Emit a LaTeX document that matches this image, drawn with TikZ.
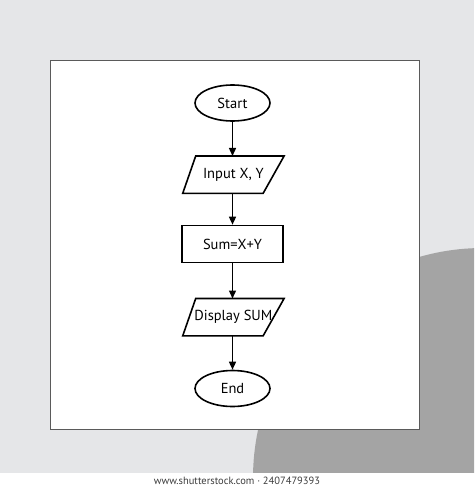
\documentclass[tikz,border=0pt]{standalone}
\usepackage{fontspec}
\setmainfont{PT Sans}
\usepackage{tikz}
\usetikzlibrary{shapes.geometric,arrows.meta}
\definecolor{bglight}{HTML}{E5E6E8}
\definecolor{bgdark}{HTML}{A4A4A4}
\definecolor{framegray}{HTML}{5A5A5A}
\definecolor{footgray}{HTML}{3C3C3C}

\begin{document}
\begin{tikzpicture}[x=1pt, y=-1pt,
  shapetext/.style={font=\fontsize{14.5}{16}\selectfont},
  outline/.style={draw, line width=1.6pt, line join=miter},
  term/.style={ellipse, outline, shapetext, minimum width=75pt, minimum height=36pt, inner sep=0pt},
  io/.style={rectangle, shapetext, minimum width=101pt, minimum height=37pt, inner sep=0pt},
  proc/.style={rectangle, outline, shapetext, minimum width=101pt, minimum height=37pt, inner sep=0pt},
  flow/.style={-{Triangle[length=8pt,width=7pt]}, line width=1.4pt}]
\newcommand{\Colx}{232.5}; % x of the flow column
\newcommand{\Grayh}{472.7}; % height of the gray area
\newcommand{\Slantl}{13pt}; % slant of the left side of an io box
\newcommand{\Slantr}{21pt}; % slant of the right side of an io box

\useasboundingbox (0,0) rectangle (474,489);

% background
\fill[bglight] (0,0) rectangle (474,\Grayh);
\begin{scope}
\clip (0,0) rectangle (474,\Grayh);
\fill[bgdark] (483,478) circle[radius=230pt];
\end{scope}

% white sheet
\draw[framegray, line width=1pt, fill=white] (50.5,60.7) rectangle (419.7,429);

% flowchart
\node[term] (start)   at (\Colx, 103)   {Start};
\node[io]   (input)   at (233.4, 174.7) {Input X, Y};
\node[proc] (sum)     at (\Colx, 244)   {Sum=X+Y};
\node[io]   (display) at (233.4, 317.2) {Display SUM};
\node[term] (end)     at (\Colx, 388.5) {End};

% io boxes
\foreach \n in {input, display}
  \draw[outline] ([xshift=\Slantl]\n.north west) -- (\n.north east)
    -- ([xshift=-\Slantr]\n.south east) -- (\n.south west) -- cycle;

\draw[flow] (start) -- (start |- input.north);
\draw[flow] (input.south -| sum) -- (sum);
\draw[flow] (sum) -- (sum |- display.north);
\draw[flow] (display.south -| end) -- (end);

\node[font=\fontsize{10.5}{12}\selectfont, text=footgray] (foot) at (237,481) {www.shutterstock.com · 2407479393};
\end{tikzpicture}
\end{document}
